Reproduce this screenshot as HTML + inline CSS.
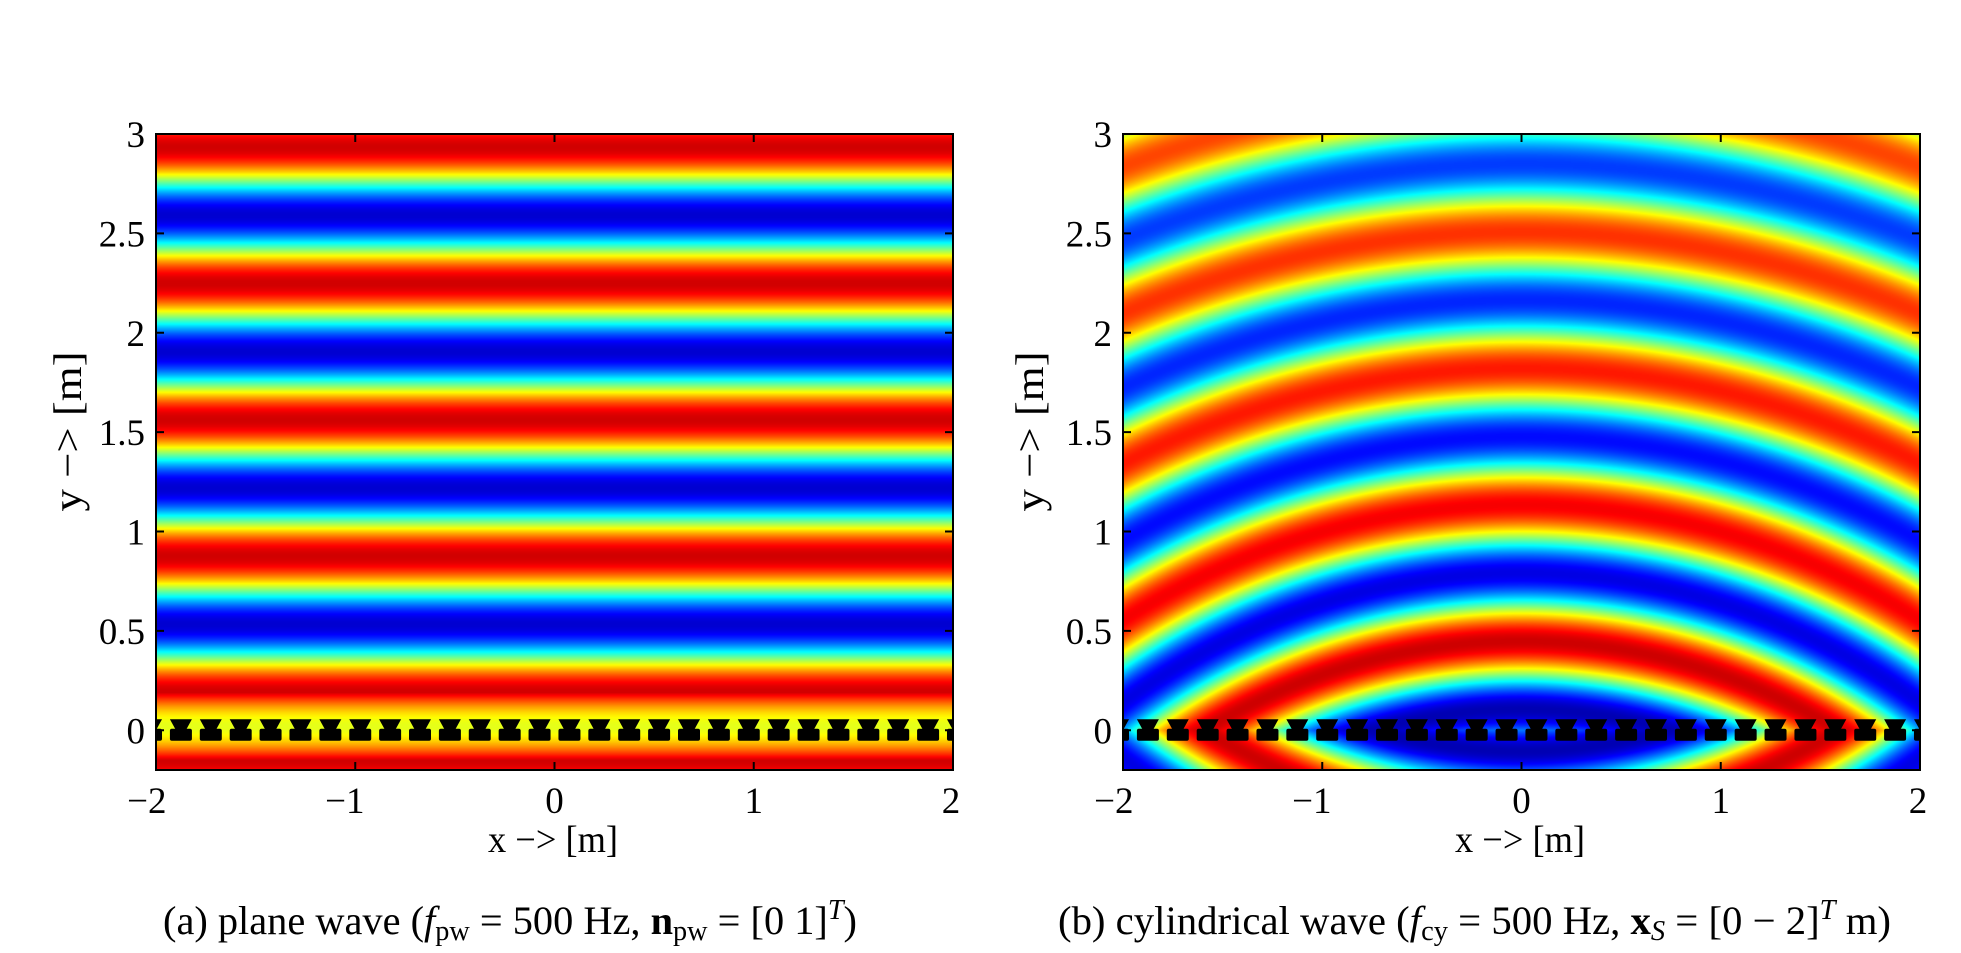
<!DOCTYPE html>
<html>
<head>
<meta charset="utf-8">
<style>
  html, body { margin:0; padding:0; background:#fff; }
  #wrap { position:relative; width:1961px; height:953px; overflow:hidden; background:#fff; }
  canvas { position:absolute; top:134px; width:797px; height:636px; }
  #c1 { left:156px;
    background: repeating-linear-gradient(to bottom,
      #d10000 12.8px, #ff0000 23px, #ff8000 33px, #ffff00 40.4px, #80ff80 46.9px, #00ffff 53.4px,
      #0080ff 60.7px, #0000ff 70.8px, #0000d1 80.95px, #0000ff 91.1px, #0080ff 101.2px, #00ffff 108.5px,
      #80ff80 115px, #ffff00 121.5px, #ff8000 128.8px, #ff0000 138.9px, #d10000 149.1px); }
  #c2 { left:1123px;
    background: repeating-radial-gradient(circle at 398.5px 1113px,
      #e00000 60px, #ff3000 70px, #ffa000 80px, #ffff00 87px, #80ff80 94px, #00ffff 100px,
      #0080ff 108px, #0010ff 118px, #0000e0 128px, #0010ff 138px, #0080ff 148px, #00ffff 156px,
      #80ff80 162px, #ffff00 169px, #ffa000 176px, #ff3000 186px, #e00000 196.5px); }
  svg { position:absolute; left:0; top:0; }
  text { font-family:"Liberation Serif", "DejaVu Serif", serif; fill:#000; }
</style>
</head>
<body>
<div id="wrap">
<canvas id="c1" width="797" height="636"></canvas>
<canvas id="c2" width="797" height="636"></canvas>
<svg width="1961" height="953" viewBox="0 0 1961 953" xmlns="http://www.w3.org/2000/svg">
  <defs>
    <clipPath id="clipL"><rect x="156" y="134" width="797" height="636"/></clipPath>
    <clipPath id="clipR"><rect x="1123" y="134" width="797" height="636"/></clipPath>
    <g id="spk">
      <path d="M-11,-11 L11,-11 L5.5,-1 L-5.5,-1 Z" fill="#000"/>
      <rect x="-11" y="-1.5" width="22" height="12" rx="2" ry="2" fill="#000"/>
    </g>
  </defs>

  <!-- Speakers left -->
  <g clip-path="url(#clipL)">
    <use href="#spk" x="151.02" y="730.25"/><use href="#spk" x="180.91" y="730.25"/>
    <use href="#spk" x="210.80" y="730.25"/><use href="#spk" x="240.69" y="730.25"/>
    <use href="#spk" x="270.57" y="730.25"/><use href="#spk" x="300.46" y="730.25"/>
    <use href="#spk" x="330.35" y="730.25"/><use href="#spk" x="360.23" y="730.25"/>
    <use href="#spk" x="390.12" y="730.25"/><use href="#spk" x="420.01" y="730.25"/>
    <use href="#spk" x="449.90" y="730.25"/><use href="#spk" x="479.78" y="730.25"/>
    <use href="#spk" x="509.67" y="730.25"/><use href="#spk" x="539.56" y="730.25"/>
    <use href="#spk" x="569.45" y="730.25"/><use href="#spk" x="599.33" y="730.25"/>
    <use href="#spk" x="629.22" y="730.25"/><use href="#spk" x="659.11" y="730.25"/>
    <use href="#spk" x="689.00" y="730.25"/><use href="#spk" x="718.88" y="730.25"/>
    <use href="#spk" x="748.77" y="730.25"/><use href="#spk" x="778.66" y="730.25"/>
    <use href="#spk" x="808.54" y="730.25"/><use href="#spk" x="838.43" y="730.25"/>
    <use href="#spk" x="868.32" y="730.25"/><use href="#spk" x="898.21" y="730.25"/>
    <use href="#spk" x="928.09" y="730.25"/><use href="#spk" x="957.98" y="730.25"/>
  </g>
  <!-- Speakers right -->
  <g clip-path="url(#clipR)">
    <use href="#spk" x="1118.02" y="730.25"/><use href="#spk" x="1147.91" y="730.25"/>
    <use href="#spk" x="1177.80" y="730.25"/><use href="#spk" x="1207.69" y="730.25"/>
    <use href="#spk" x="1237.57" y="730.25"/><use href="#spk" x="1267.46" y="730.25"/>
    <use href="#spk" x="1297.35" y="730.25"/><use href="#spk" x="1327.23" y="730.25"/>
    <use href="#spk" x="1357.12" y="730.25"/><use href="#spk" x="1387.01" y="730.25"/>
    <use href="#spk" x="1416.90" y="730.25"/><use href="#spk" x="1446.78" y="730.25"/>
    <use href="#spk" x="1476.67" y="730.25"/><use href="#spk" x="1506.56" y="730.25"/>
    <use href="#spk" x="1536.45" y="730.25"/><use href="#spk" x="1566.33" y="730.25"/>
    <use href="#spk" x="1596.22" y="730.25"/><use href="#spk" x="1626.11" y="730.25"/>
    <use href="#spk" x="1656.00" y="730.25"/><use href="#spk" x="1685.88" y="730.25"/>
    <use href="#spk" x="1715.77" y="730.25"/><use href="#spk" x="1745.66" y="730.25"/>
    <use href="#spk" x="1775.54" y="730.25"/><use href="#spk" x="1805.43" y="730.25"/>
    <use href="#spk" x="1835.32" y="730.25"/><use href="#spk" x="1865.21" y="730.25"/>
    <use href="#spk" x="1895.09" y="730.25"/><use href="#spk" x="1924.98" y="730.25"/>
  </g>

  <!-- Axes boxes -->
  <rect x="156" y="134" width="797" height="636" fill="none" stroke="#000" stroke-width="2"/>
  <rect x="1123" y="134" width="797" height="636" fill="none" stroke="#000" stroke-width="2"/>

  <!-- Ticks left -->
  <g stroke="#000" stroke-width="2">
    <path d="M156,770v-8 M355.25,770v-8 M554.5,770v-8 M753.75,770v-8 M953,770v-8
             M156,134v8 M355.25,134v8 M554.5,134v8 M753.75,134v8 M953,134v8
             M156,730.25h8 M156,630.875h8 M156,531.5h8 M156,432.125h8 M156,332.75h8 M156,233.375h8 M156,134h8
             M953,730.25h-8 M953,630.875h-8 M953,531.5h-8 M953,432.125h-8 M953,332.75h-8 M953,233.375h-8 M953,134h-8"/>
    <path d="M1123,770v-8 M1322.25,770v-8 M1521.5,770v-8 M1720.75,770v-8 M1920,770v-8
             M1123,134v8 M1322.25,134v8 M1521.5,134v8 M1720.75,134v8 M1920,134v8
             M1123,730.25h8 M1123,630.875h8 M1123,531.5h8 M1123,432.125h8 M1123,332.75h8 M1123,233.375h8 M1123,134h8
             M1920,730.25h-8 M1920,630.875h-8 M1920,531.5h-8 M1920,432.125h-8 M1920,332.75h-8 M1920,233.375h-8 M1920,134h-8"/>
  </g>

  <!-- Y tick labels left -->
  <g font-size="37" text-anchor="end">
    <text x="145" y="147">3</text>
    <text x="145" y="246.4">2.5</text>
    <text x="145" y="345.75">2</text>
    <text x="145" y="445.1">1.5</text>
    <text x="145" y="544.5">1</text>
    <text x="145" y="643.9">0.5</text>
    <text x="145" y="743.25">0</text>
  </g>
  <!-- Y tick labels right -->
  <g font-size="37" text-anchor="end">
    <text x="1112" y="147">3</text>
    <text x="1112" y="246.4">2.5</text>
    <text x="1112" y="345.75">2</text>
    <text x="1112" y="445.1">1.5</text>
    <text x="1112" y="544.5">1</text>
    <text x="1112" y="643.9">0.5</text>
    <text x="1112" y="743.25">0</text>
  </g>

  <!-- X tick labels left -->
  <g font-size="37">
    <text x="166.5" y="813" text-anchor="end">−2</text>
    <text x="364.5" y="813" text-anchor="end">−1</text>
    <text x="554.5" y="813" text-anchor="middle">0</text>
    <text x="753.75" y="813" text-anchor="middle">1</text>
    <text x="951" y="813" text-anchor="middle">2</text>
  </g>
  <!-- X tick labels right -->
  <g font-size="37">
    <text x="1133.5" y="813" text-anchor="end">−2</text>
    <text x="1331.5" y="813" text-anchor="end">−1</text>
    <text x="1521.5" y="813" text-anchor="middle">0</text>
    <text x="1720.75" y="813" text-anchor="middle">1</text>
    <text x="1918" y="813" text-anchor="middle">2</text>
  </g>

  <!-- Axis labels -->
  <text x="553" y="852" font-size="38" text-anchor="middle" textLength="130" lengthAdjust="spacingAndGlyphs">x −&gt; [m]</text>
  <text x="1520" y="852" font-size="38" text-anchor="middle" textLength="130" lengthAdjust="spacingAndGlyphs">x −&gt; [m]</text>
  <text transform="translate(81,431.5) rotate(-90)" font-size="40" text-anchor="middle" textLength="160" lengthAdjust="spacingAndGlyphs">y −&gt; [m]</text>
  <text transform="translate(1043,431.5) rotate(-90)" font-size="40" text-anchor="middle" textLength="160" lengthAdjust="spacingAndGlyphs">y −&gt; [m]</text>

  <!-- Captions -->
  <text x="163" y="934" font-size="40" textLength="694" lengthAdjust="spacingAndGlyphs">(a) plane wave (<tspan font-style="italic">f</tspan><tspan font-size="28" dy="6">pw</tspan><tspan dy="-6"> = 500 Hz, </tspan><tspan font-weight="bold">n</tspan><tspan font-size="28" dy="6">pw</tspan><tspan dy="-6"> = [0 1]</tspan><tspan font-size="28" font-style="italic" dy="-15">T</tspan><tspan dy="15">)</tspan></text>
  <text x="1058" y="934" font-size="40" textLength="833" lengthAdjust="spacingAndGlyphs">(b) cylindrical wave (<tspan font-style="italic">f</tspan><tspan font-size="28" dy="6">cy</tspan><tspan dy="-6"> = 500 Hz, </tspan><tspan font-weight="bold">x</tspan><tspan font-size="28" font-style="italic" dy="6">S</tspan><tspan dy="-6"> = [0 − 2]</tspan><tspan font-size="28" font-style="italic" dy="-15">T</tspan><tspan dy="15"> m)</tspan></text>
</svg>
</div>
<script>
(function(){
  function cl(v){ return v<0?0:(v>1?1:v); }
  function jet(t){
    return [
      Math.round(cl(1.5-Math.abs(4*t-3))*255),
      Math.round(cl(1.5-Math.abs(4*t-2))*255),
      Math.round(cl(1.5-Math.abs(4*t-1))*255)
    ];
  }
  var W=797, H=636, k=2*Math.PI/0.686;
  function draw(id, fn){
    var c=document.getElementById(id);
    if(!c || !c.getContext) return;
    var ctx=c.getContext('2d');
    var im=ctx.createImageData(W,H), d=im.data;
    for(var j=0;j<H;j++){
      var y=3-(j+0.5)*3.2/H;
      for(var i=0;i<W;i++){
        var x=-2+(i+0.5)*4/W;
        var col=jet(fn(x,y));
        var p=(j*W+i)*4;
        d[p]=col[0]; d[p+1]=col[1]; d[p+2]=col[2]; d[p+3]=255;
      }
    }
    ctx.putImageData(im,0,0);
  }
  draw('c1', function(x,y){
    if(y>=0.19) return 0.5+0.42*Math.cos(k*(y-0.19));
    if(y>=-0.15) return 0.92-0.32*Math.sin(Math.PI*(0.19-y)/0.34);
    return 0.5+0.42*Math.cos(k*(y+0.15));
  });
  var D=2.6, RR=D+0.45;
  draw('c2', function(x,y){
    var yy=Math.abs(y)+D;
    var R=Math.sqrt(x*x+yy*yy);
    var A=0.45*Math.sqrt(2.7/R);
    return 0.5+A*Math.cos(k*(R-RR));
  });
})();
</script>
</body>
</html>
